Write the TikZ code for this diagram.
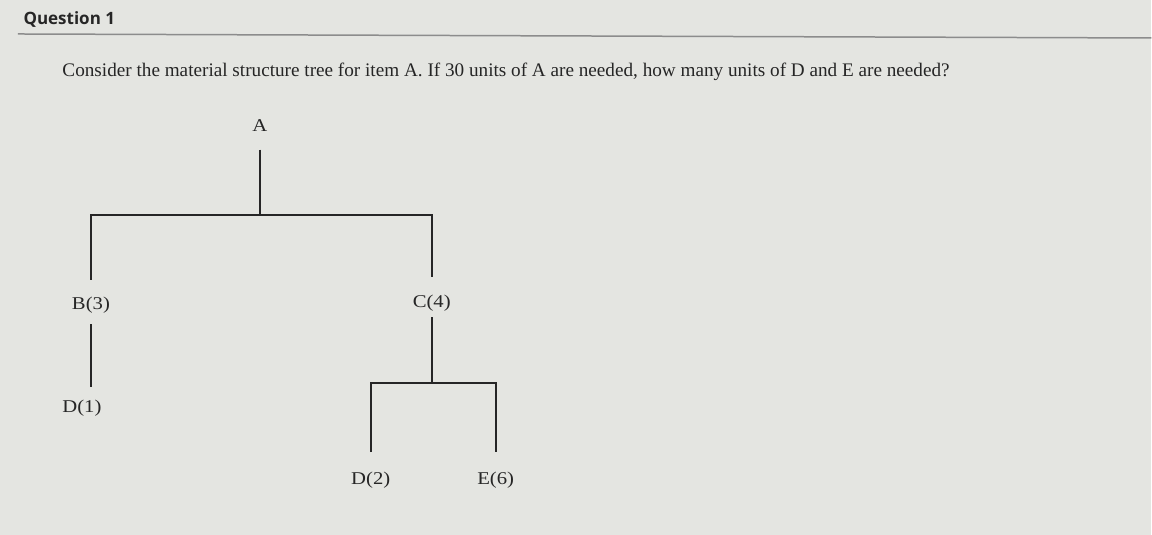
\documentclass[tikz,border=0pt]{standalone}
\usepackage{fontspec}
\setmainfont{Liberation Serif}
\newfontfamily\headfont{Open Sans}
\newfontfamily\treefont[FakeStretch=1.15]{Liberation Serif}
\definecolor{paper}{HTML}{E4E5E1}
\definecolor{ink}{HTML}{262626}
\begin{document}
\begin{tikzpicture}[x=1pt,y=-1pt,
    part/.style={font=\treefont\fontsize{18}{20}\selectfont, text=ink, text height=13pt, text depth=4pt, inner sep=0pt},
    link/.style={line width=2.2pt, draw=ink}]
  \fill[paper] (0,0) rectangle (1152,535);
  \node[anchor=base west, font=\headfont\bfseries\fontsize{17}{20}\selectfont, text=ink] (title) at (20,25) {Question 1};
  \draw[black!45, line width=1.5pt] (18,34) -- (1152,38);
  \node[anchor=base west, font=\fontsize{19.2}{22}\selectfont, text=ink] (ask) at (59,77)
    {Consider the material structure tree for item A. If 30 units of A are needed, how many units of D and E are needed?};

  % the tree
  \node[part] (A)  at (260,127) {A};
  \node[part] (B)  at (91,305)  {B(3)};
  \node[part] (C)  at (432,303) {C(4)};
  \node[part] (D1) at (82,408)  {D(1)};
  \node[part] (D2) at (371,480) {D(2)};
  \node[part] (E)  at (496,480) {E(6)};
  \coordinate (barA) at (0,215);
  \coordinate (barC) at (0,383);

  \draw[link, shorten <=14pt, shorten >=16pt] (A.south) -- (A.south |- barA) -- (B.north |- barA) -- (B.north);
  \draw[link, shorten >=17pt] (A.south |- barA) -- (C.north |- barA) -- (C.north);
  \draw[link, shorten <=11pt, shorten >=12pt] (B.south) -- (B.south |- D1.north);
  \draw[link, shorten <=6pt] (C.south) -- (C.south |- barC);
  \draw[link, shorten <=19pt, shorten >=19pt] (D2.north) -- (D2.north |- barC) -- (E.north |- barC) -- (E.north);
\end{tikzpicture}
\end{document}
